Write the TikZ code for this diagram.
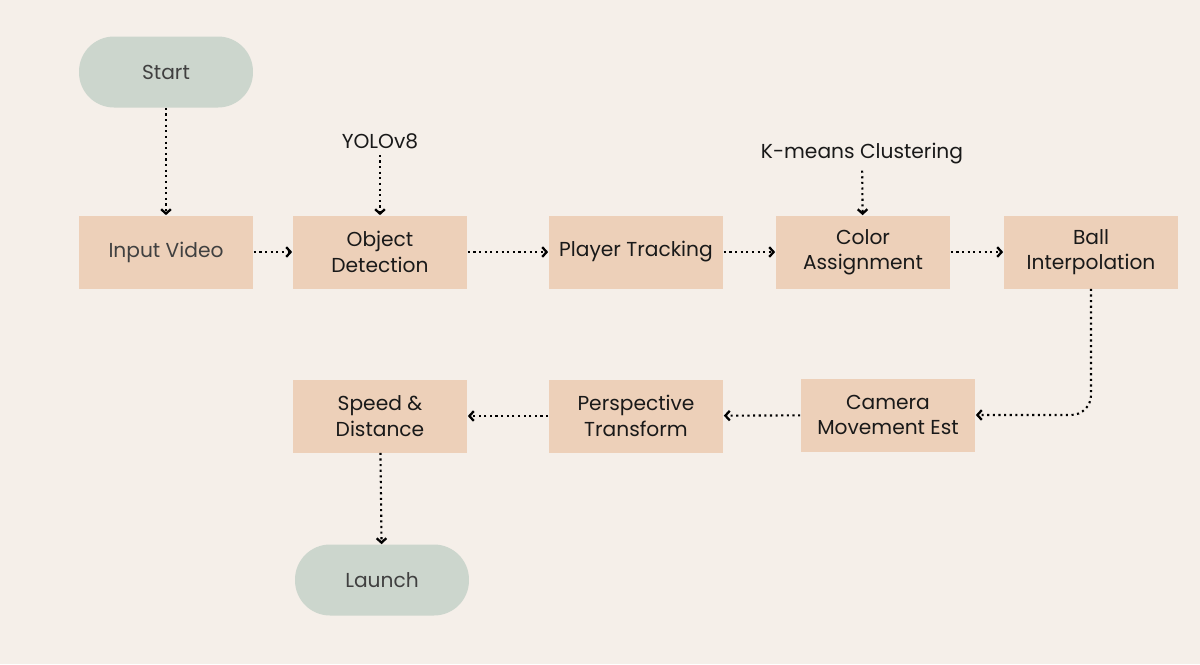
\documentclass[tikz,border=0pt]{standalone}
\usepackage{fontspec}
\setmainfont{Poppins}
\usetikzlibrary{arrows.meta}
\definecolor{bg}{HTML}{F5EFE9}
\definecolor{box}{HTML}{EDD0B9}
\definecolor{grn}{HTML}{CCD6CD}
\begin{document}
\begin{tikzpicture}[x=0.02cm,y=-0.02cm,
  proc/.style={fill=box,draw=none,minimum width=3.5cm,minimum height=1.46cm,align=center,font=\fontsize{11.5}{14.5}\selectfont,text=black!90},
  term/.style={fill=grn,draw=none,rounded corners=0.7cm,minimum width=3.48cm,minimum height=1.42cm,font=\fontsize{11.5}{14.5}\selectfont,text=black!75},
  lab/.style={font=\fontsize{11.5}{14.5}\selectfont,text=black!90},
  conn/.style={line width=1.2pt,dotted,-{Straight Barb[length=2.5pt,width=5.5pt,line width=1.3pt]}}]
\fill[bg] (0,0) rectangle (1200,664);
\node[term] (start) at (166,72) {Start};
\node[proc,text=black!75] (in) at (166,252) {Input Video};
\node[proc] (od) at (380,252) {Object\\Detection};
\node[proc] (pt) at (636,252) {Player Tracking};
\node[proc] (ca) at (863,252) {Color\\Assignment};
\node[proc] (bi) at (1091,252) {Ball\\Interpolation};
\node[proc] (cm) at (888,415) {Camera\\Movement Est};
\node[proc] (pr) at (636,416) {Perspective\\Transform};
\node[proc] (sd) at (380,416) {Speed \&\\Distance};
\node[term] (la) at (382,580) {Launch};
\node[lab] (yo) at (380,141) {YOLOv8};
\node[lab] (km) at (862,154) {K-means Clustering};
\draw[conn] (start) -- (in);
\draw[conn] (yo) -- (od);
\draw[conn] (km) -- (ca);
\draw[conn] (in) -- (od);
\draw[conn] (od) -- (pt);
\draw[conn] (pt) -- (ca);
\draw[conn] (ca) -- (bi);
\draw[conn,rounded corners=0.4cm] (bi.south) -- (bi.south |- cm.east) -- (cm.east);
\draw[conn] (cm) -- (pr);
\draw[conn] (pr) -- (sd);
\draw[conn] (sd) -- (la);
\end{tikzpicture}
\end{document}
